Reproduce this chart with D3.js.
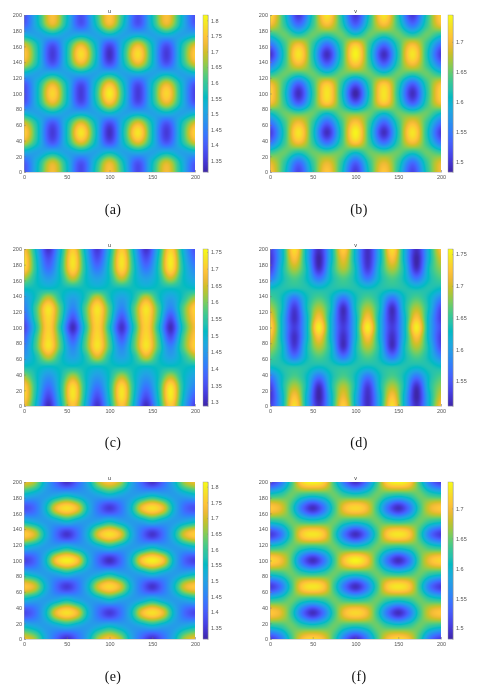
<!DOCTYPE html>
<html>
<head>
<meta charset="utf-8">
<script src="https://cdn.jsdelivr.net/npm/d3@7"></script>
<style>
  html, body { margin: 0; padding: 0; background: #fff; }
  #fig { position: relative; width: 480px; height: 693px; overflow: hidden; filter: blur(0.3px); }
  canvas, svg { position: absolute; }
</style>
</head>
<body>
<div id="fig"></div>
<script>
// parula stops (r, g, b)
const parula = [
  [.2422,.1504,.6603],[.2647,.1978,.7952],[.2783,.2559,.8991],[.2810,.3228,.9579],[.2699,.3892,.9906],[.2206,.4603,.9973],
  [.1786,.5289,.9682],[.1540,.5902,.9218],[.1248,.6459,.8883],[.0689,.6948,.8394],[.0067,.7312,.7660],[.1408,.7584,.6842],
  [.2161,.7843,.5923],[.3406,.8008,.4789],[.5044,.7993,.3480],[.6720,.7793,.2227],[.8203,.7498,.1535],[.9393,.7288,.2100],
  [.9970,.7659,.2199],[.9786,.8386,.1766],[.9597,.9135,.1423],[.9769,.9839,.0805]
].map(d => d3.rgb(d[0] * 255, d[1] * 255, d[2] * 255));

const titles = ["u", "v", "u", "v", "u", "v"];
const captions = ["(a)", "(b)", "(c)", "(d)", "(e)", "(f)"];
const axisTicksX = [0, 50, 100, 150, 200];
const axisTicksY = [0, 20, 40, 60, 80, 100, 120, 140, 160, 180, 200];

const ranges = [[1.314, 1.817], [1.482, 1.745], [1.288, 1.759], [1.511, 1.758], [1.314, 1.815], [1.482, 1.744]];
const barTicks = [
  [1.35, 1.4, 1.45, 1.5, 1.55, 1.6, 1.65, 1.7, 1.75, 1.8],
  [1.5, 1.55, 1.6, 1.65, 1.7],
  [1.3, 1.35, 1.4, 1.45, 1.5, 1.55, 1.6, 1.65, 1.7, 1.75],
  [1.55, 1.6, 1.65, 1.7, 1.75],
  [1.35, 1.4, 1.45, 1.5, 1.55, 1.6, 1.65, 1.7, 1.75, 1.8],
  [1.5, 1.55, 1.6, 1.65, 1.7]
];

// values, rows go from y=0 up to y=200
const gridA = [
  [1.38,1.56,1.73,1.56,1.37,1.57,1.74,1.57,1.37,1.56,1.73,1.56,1.38],
  [1.40,1.55,1.70,1.55,1.39,1.55,1.71,1.55,1.39,1.55,1.70,1.55,1.40],
  [1.52,1.50,1.54,1.50,1.52,1.50,1.55,1.50,1.52,1.50,1.54,1.50,1.52],
  [1.70,1.55,1.39,1.55,1.71,1.55,1.38,1.55,1.71,1.55,1.39,1.55,1.70],
  [1.77,1.56,1.35,1.56,1.79,1.57,1.33,1.57,1.79,1.56,1.35,1.56,1.77],
  [1.70,1.55,1.39,1.55,1.71,1.55,1.38,1.55,1.71,1.55,1.39,1.55,1.70],
  [1.53,1.50,1.54,1.50,1.52,1.50,1.55,1.50,1.52,1.50,1.54,1.50,1.53],
  [1.39,1.55,1.71,1.55,1.38,1.55,1.73,1.55,1.38,1.55,1.71,1.55,1.39],
  [1.37,1.56,1.77,1.56,1.35,1.57,1.80,1.57,1.35,1.56,1.77,1.56,1.36],
  [1.39,1.55,1.71,1.55,1.38,1.55,1.73,1.55,1.38,1.55,1.71,1.55,1.39],
  [1.53,1.50,1.54,1.50,1.52,1.50,1.55,1.50,1.52,1.50,1.54,1.50,1.53],
  [1.70,1.55,1.39,1.55,1.71,1.55,1.38,1.55,1.71,1.55,1.39,1.55,1.70],
  [1.76,1.56,1.35,1.56,1.78,1.57,1.33,1.57,1.78,1.56,1.35,1.56,1.76],
  [1.70,1.55,1.39,1.55,1.71,1.55,1.38,1.55,1.71,1.55,1.39,1.55,1.70],
  [1.52,1.50,1.54,1.50,1.52,1.50,1.55,1.50,1.52,1.50,1.54,1.50,1.52],
  [1.40,1.55,1.71,1.55,1.39,1.55,1.72,1.55,1.39,1.55,1.71,1.55,1.40],
  [1.38,1.56,1.74,1.56,1.38,1.57,1.75,1.57,1.38,1.56,1.74,1.56,1.38]
];
const gridB = [
  [1.71,1.62,1.51,1.62,1.71,1.62,1.50,1.62,1.71,1.62,1.51,1.62,1.70],
  [1.69,1.63,1.54,1.63,1.69,1.63,1.53,1.63,1.69,1.63,1.54,1.63,1.69],
  [1.63,1.65,1.62,1.65,1.64,1.65,1.61,1.65,1.64,1.65,1.62,1.65,1.63],
  [1.54,1.63,1.70,1.63,1.54,1.63,1.71,1.63,1.54,1.63,1.70,1.63,1.54],
  [1.50,1.62,1.73,1.62,1.49,1.62,1.74,1.62,1.49,1.62,1.73,1.62,1.50],
  [1.54,1.63,1.70,1.63,1.53,1.63,1.71,1.63,1.53,1.63,1.70,1.63,1.54],
  [1.61,1.65,1.64,1.65,1.61,1.65,1.65,1.65,1.61,1.65,1.64,1.65,1.61],
  [1.70,1.63,1.53,1.63,1.71,1.63,1.53,1.63,1.71,1.63,1.53,1.63,1.70],
  [1.72,1.62,1.49,1.62,1.73,1.62,1.48,1.62,1.73,1.62,1.49,1.62,1.72],
  [1.70,1.63,1.53,1.63,1.71,1.63,1.53,1.63,1.71,1.63,1.53,1.63,1.70],
  [1.62,1.65,1.63,1.65,1.62,1.65,1.64,1.65,1.62,1.65,1.63,1.65,1.62],
  [1.54,1.63,1.70,1.63,1.53,1.63,1.71,1.63,1.53,1.63,1.70,1.63,1.54],
  [1.49,1.62,1.73,1.62,1.49,1.62,1.74,1.62,1.49,1.62,1.73,1.62,1.50],
  [1.54,1.63,1.70,1.63,1.54,1.63,1.71,1.63,1.54,1.63,1.70,1.63,1.54],
  [1.62,1.65,1.62,1.65,1.63,1.65,1.61,1.65,1.63,1.65,1.62,1.65,1.62],
  [1.70,1.63,1.54,1.63,1.70,1.63,1.53,1.63,1.70,1.63,1.54,1.63,1.70],
  [1.73,1.62,1.50,1.62,1.73,1.62,1.50,1.62,1.73,1.62,1.50,1.62,1.72]
];
const gridC = [
  [1.68,1.50,1.30,1.50,1.69,1.50,1.31,1.50,1.69,1.50,1.30,1.50,1.70,1.50,1.33],
  [1.72,1.52,1.34,1.52,1.73,1.52,1.35,1.52,1.73,1.52,1.35,1.52,1.74,1.52,1.37],
  [1.71,1.53,1.39,1.53,1.72,1.53,1.40,1.53,1.72,1.53,1.40,1.53,1.73,1.53,1.42],
  [1.62,1.52,1.44,1.52,1.63,1.52,1.45,1.52,1.63,1.52,1.45,1.52,1.63,1.52,1.46],
  [1.52,1.52,1.51,1.52,1.52,1.52,1.51,1.52,1.52,1.52,1.51,1.52,1.52,1.52,1.51],
  [1.45,1.53,1.64,1.53,1.46,1.53,1.65,1.53,1.46,1.53,1.65,1.53,1.46,1.53,1.62],
  [1.41,1.57,1.73,1.57,1.42,1.57,1.73,1.57,1.42,1.57,1.73,1.57,1.42,1.57,1.71],
  [1.37,1.56,1.72,1.56,1.36,1.56,1.72,1.56,1.36,1.56,1.72,1.56,1.35,1.56,1.70],
  [1.33,1.53,1.71,1.53,1.30,1.53,1.71,1.53,1.31,1.53,1.71,1.53,1.30,1.53,1.68],
  [1.37,1.56,1.72,1.56,1.36,1.56,1.72,1.56,1.36,1.56,1.72,1.56,1.35,1.56,1.70],
  [1.41,1.57,1.73,1.57,1.42,1.57,1.73,1.57,1.42,1.57,1.73,1.57,1.42,1.57,1.71],
  [1.45,1.53,1.64,1.53,1.46,1.53,1.65,1.53,1.46,1.53,1.65,1.53,1.46,1.53,1.62],
  [1.52,1.52,1.51,1.52,1.52,1.52,1.51,1.52,1.52,1.52,1.51,1.52,1.52,1.52,1.51],
  [1.62,1.52,1.45,1.52,1.64,1.52,1.46,1.52,1.64,1.52,1.46,1.52,1.64,1.52,1.46],
  [1.72,1.53,1.39,1.53,1.72,1.53,1.40,1.53,1.72,1.53,1.40,1.53,1.73,1.53,1.42],
  [1.73,1.52,1.35,1.52,1.73,1.52,1.35,1.52,1.73,1.52,1.35,1.52,1.74,1.52,1.38],
  [1.69,1.50,1.31,1.50,1.70,1.50,1.32,1.50,1.70,1.50,1.31,1.50,1.71,1.50,1.35]
];
const gridD = [
  [1.53,1.62,1.74,1.62,1.52,1.62,1.73,1.62,1.52,1.62,1.74,1.62,1.52,1.62,1.72],
  [1.52,1.62,1.72,1.62,1.51,1.62,1.71,1.62,1.52,1.62,1.72,1.62,1.51,1.62,1.70],
  [1.53,1.63,1.69,1.63,1.52,1.63,1.69,1.63,1.53,1.63,1.69,1.63,1.52,1.63,1.68],
  [1.57,1.63,1.66,1.63,1.57,1.63,1.66,1.63,1.57,1.63,1.66,1.63,1.57,1.63,1.66],
  [1.63,1.64,1.64,1.64,1.63,1.64,1.64,1.64,1.63,1.64,1.64,1.64,1.63,1.64,1.63],
  [1.66,1.63,1.57,1.63,1.66,1.63,1.57,1.63,1.66,1.63,1.57,1.63,1.66,1.63,1.58],
  [1.69,1.63,1.53,1.63,1.69,1.63,1.52,1.63,1.69,1.63,1.52,1.63,1.69,1.63,1.54],
  [1.72,1.62,1.52,1.62,1.72,1.62,1.52,1.62,1.72,1.62,1.52,1.62,1.72,1.62,1.53],
  [1.74,1.62,1.53,1.62,1.75,1.62,1.53,1.62,1.75,1.62,1.53,1.62,1.75,1.62,1.54],
  [1.72,1.62,1.52,1.62,1.72,1.62,1.52,1.62,1.72,1.62,1.52,1.62,1.72,1.62,1.53],
  [1.69,1.63,1.53,1.63,1.69,1.63,1.52,1.63,1.69,1.63,1.52,1.63,1.69,1.63,1.54],
  [1.66,1.63,1.57,1.63,1.66,1.63,1.57,1.63,1.66,1.63,1.57,1.63,1.66,1.63,1.58],
  [1.63,1.64,1.64,1.64,1.63,1.64,1.64,1.64,1.63,1.64,1.64,1.64,1.63,1.64,1.63],
  [1.57,1.63,1.66,1.63,1.57,1.63,1.66,1.63,1.57,1.63,1.66,1.63,1.57,1.63,1.66],
  [1.53,1.63,1.69,1.63,1.52,1.63,1.69,1.63,1.53,1.63,1.69,1.63,1.52,1.63,1.68],
  [1.52,1.62,1.72,1.62,1.51,1.62,1.71,1.62,1.52,1.62,1.72,1.62,1.51,1.62,1.70],
  [1.53,1.62,1.74,1.62,1.52,1.62,1.73,1.62,1.52,1.62,1.74,1.62,1.52,1.62,1.72]
];
const gridE = [
  [1.72,1.67,1.52,1.41,1.33,1.41,1.52,1.68,1.74,1.68,1.52,1.41,1.33,1.41,1.52,1.67,1.72],
  [1.54,1.51,1.49,1.51,1.54,1.51,1.49,1.51,1.54,1.51,1.49,1.51,1.54,1.51,1.49,1.51,1.54],
  [1.37,1.42,1.54,1.72,1.78,1.72,1.54,1.42,1.35,1.42,1.54,1.72,1.78,1.72,1.54,1.42,1.37],
  [1.54,1.51,1.49,1.51,1.55,1.51,1.49,1.51,1.55,1.51,1.49,1.51,1.55,1.51,1.49,1.51,1.54],
  [1.75,1.70,1.54,1.42,1.35,1.42,1.54,1.71,1.77,1.71,1.54,1.42,1.34,1.42,1.54,1.70,1.75],
  [1.54,1.51,1.49,1.51,1.55,1.51,1.49,1.51,1.55,1.51,1.49,1.51,1.55,1.51,1.49,1.51,1.54],
  [1.36,1.41,1.54,1.74,1.80,1.74,1.54,1.41,1.33,1.41,1.54,1.74,1.80,1.74,1.54,1.41,1.36],
  [1.54,1.51,1.49,1.51,1.55,1.51,1.49,1.51,1.55,1.51,1.49,1.51,1.55,1.51,1.49,1.51,1.54],
  [1.76,1.70,1.54,1.42,1.34,1.42,1.54,1.72,1.78,1.72,1.54,1.42,1.34,1.42,1.54,1.70,1.76],
  [1.54,1.51,1.49,1.51,1.55,1.51,1.49,1.51,1.55,1.51,1.49,1.51,1.55,1.51,1.49,1.51,1.54],
  [1.38,1.42,1.54,1.72,1.78,1.72,1.54,1.42,1.35,1.42,1.54,1.72,1.78,1.72,1.54,1.42,1.38],
  [1.54,1.51,1.49,1.51,1.54,1.51,1.49,1.51,1.54,1.51,1.49,1.51,1.54,1.51,1.49,1.51,1.54],
  [1.72,1.67,1.52,1.41,1.33,1.41,1.52,1.68,1.74,1.68,1.52,1.41,1.33,1.41,1.52,1.67,1.72]
];
const gridF = [
  [1.50,1.54,1.63,1.70,1.72,1.70,1.63,1.54,1.49,1.54,1.63,1.70,1.72,1.70,1.63,1.54,1.50],
  [1.62,1.63,1.65,1.63,1.62,1.63,1.65,1.63,1.62,1.63,1.65,1.63,1.62,1.63,1.65,1.63,1.62],
  [1.71,1.69,1.63,1.54,1.49,1.54,1.63,1.70,1.72,1.70,1.63,1.54,1.49,1.54,1.63,1.69,1.71],
  [1.62,1.63,1.65,1.63,1.62,1.63,1.65,1.63,1.62,1.63,1.65,1.63,1.62,1.63,1.65,1.63,1.62],
  [1.50,1.54,1.63,1.71,1.73,1.71,1.63,1.54,1.49,1.54,1.63,1.71,1.73,1.71,1.63,1.54,1.50],
  [1.62,1.63,1.65,1.63,1.62,1.63,1.65,1.63,1.62,1.63,1.65,1.63,1.62,1.63,1.65,1.63,1.62],
  [1.72,1.70,1.64,1.54,1.49,1.54,1.63,1.71,1.74,1.71,1.63,1.54,1.49,1.54,1.64,1.70,1.72],
  [1.62,1.63,1.65,1.63,1.62,1.63,1.65,1.63,1.62,1.63,1.65,1.63,1.62,1.63,1.65,1.63,1.62],
  [1.50,1.54,1.63,1.71,1.73,1.71,1.63,1.54,1.49,1.54,1.63,1.71,1.73,1.71,1.63,1.54,1.50],
  [1.62,1.63,1.65,1.63,1.62,1.63,1.65,1.63,1.62,1.63,1.65,1.63,1.62,1.63,1.65,1.63,1.62],
  [1.71,1.69,1.63,1.54,1.49,1.54,1.63,1.70,1.72,1.70,1.63,1.54,1.49,1.54,1.63,1.69,1.71],
  [1.62,1.63,1.65,1.63,1.62,1.63,1.65,1.63,1.62,1.63,1.65,1.63,1.62,1.63,1.65,1.63,1.62],
  [1.50,1.54,1.63,1.72,1.74,1.72,1.63,1.54,1.49,1.54,1.63,1.72,1.74,1.72,1.63,1.54,1.50]
];
const grids = [gridA, gridB, gridC, gridD, gridE, gridF];

const colLeft = [24, 270];
const barLeft = [203, 448];
const rowTop = [15, 249, 482];
const rowBase = [214, 447, 681];
const plotW = 171, plotH = 157, barW = 5;

const fig = d3.select("#fig");
const svg = fig.append("svg").attr("width", 480).attr("height", 693).style("left", 0).style("top", 0);

// catmull-rom between the mesh nodes, same idea as shading interp
function cubic(a, b, c, d, t) {
  return b + 0.5 * t * (c - a + t * (2 * a - 5 * b + 4 * c - d + t * (3 * (b - c) + d - a)));
}
function shade(grid, fx, fy) {
  const nr = grid.length, nc = grid[0].length;
  const cx = i => Math.max(0, Math.min(nc - 1, i)), cy = j => Math.max(0, Math.min(nr - 1, j));
  const i = Math.min(nc - 2, Math.floor(fx)), j = Math.min(nr - 2, Math.floor(fy));
  const tx = fx - i, ty = fy - j;
  const rows = [-1, 0, 1, 2].map(dj => {
    const r = grid[cy(j + dj)];
    return cubic(r[cx(i - 1)], r[cx(i)], r[cx(i + 1)], r[cx(i + 2)], tx);
  });
  return cubic(rows[0], rows[1], rows[2], rows[3], ty);
}

grids.forEach((grid, k) => {
  const col = k % 2, row = Math.floor(k / 2);
  const left = colLeft[col], top = rowTop[row];

  const x = d3.scaleLinear().domain([0, 200]).range([0, plotW]);
  const y = d3.scaleLinear().domain([0, 200]).range([plotH, 0]);
  const color = d3.scaleLinear()
      .domain(d3.range(parula.length).map(i => ranges[k][0] + i / (parula.length - 1) * (ranges[k][1] - ranges[k][0])))
      .range(parula)
      .clamp(true);
  const nodeX = d3.scaleLinear().domain([0, 200]).range([0, grid[0].length - 1]);
  const nodeY = d3.scaleLinear().domain([0, 200]).range([0, grid.length - 1]);

  // heat map
  const canvas = fig.insert("canvas", "svg")
      .attr("width", plotW).attr("height", plotH)
      .style("left", left + "px").style("top", top + "px");
  const ctx = canvas.node().getContext("2d");
  for (let py = 0; py < plotH; py++) {
    for (let px = 0; px < plotW; px++) {
      ctx.fillStyle = color(shade(grid, nodeX(x.invert(px + 0.5)), nodeY(y.invert(py + 0.5))));
      ctx.fillRect(px, py, 1, 1);
    }
  }

  const g = svg.append("g").attr("transform", `translate(${left},${top})`);

  const xAxis = g.append("g").attr("transform", `translate(0,${plotH})`)
      .call(d3.axisBottom(x).tickValues(axisTicksX).tickSize(-2).tickPadding(3));
  const yAxis = g.append("g")
      .call(d3.axisLeft(y).tickValues(axisTicksY).tickSize(-2).tickPadding(2));

  g.append("text")
      .attr("x", plotW / 2).attr("y", -2.5)
      .attr("text-anchor", "middle")
      .attr("font-family", "Liberation Sans")
      .attr("font-size", 5.5)
      .attr("fill", "#333")
      .text(titles[k]);

  // colorbar
  const bar = svg.append("g").attr("transform", `translate(${barLeft[col]},${top})`);
  const c = d3.scaleLinear().domain(ranges[k]).range([plotH, 0]);
  bar.selectAll("rect")
    .data(d3.range(plotH))
    .join("rect")
      .attr("x", 0).attr("y", d => d)
      .attr("width", barW).attr("height", 1.2)
      .attr("fill", d => color(c.invert(d + 0.5)));
  const cAxis = bar.append("g").attr("transform", `translate(${barW},0)`)
      .call(d3.axisRight(c).tickValues(barTicks[k]).tickFormat(d3.format("~g")).tickSize(-1).tickPadding(3));
  bar.append("rect")
      .attr("width", barW).attr("height", plotH)
      .attr("fill", "none").attr("stroke", "#999").attr("stroke-width", 0.4);

  [xAxis, yAxis, cAxis].forEach(a => {
    a.attr("font-family", "Liberation Sans").attr("font-size", 5.5);
    a.selectAll("text").attr("fill", "#555");
    a.selectAll("line").attr("stroke", "#777").attr("stroke-width", 0.4);
    a.select(".domain").attr("stroke", "#999").attr("stroke-width", 0.4);
  });

  svg.append("text")
      .attr("x", left + 89).attr("y", rowBase[row])
      .attr("text-anchor", "middle")
      .attr("font-family", "Liberation Serif")
      .attr("font-size", 14)
      .attr("letter-spacing", 0.4)
      .attr("fill", "#111")
      .text(captions[k]);
});
</script>
</body>
</html>
